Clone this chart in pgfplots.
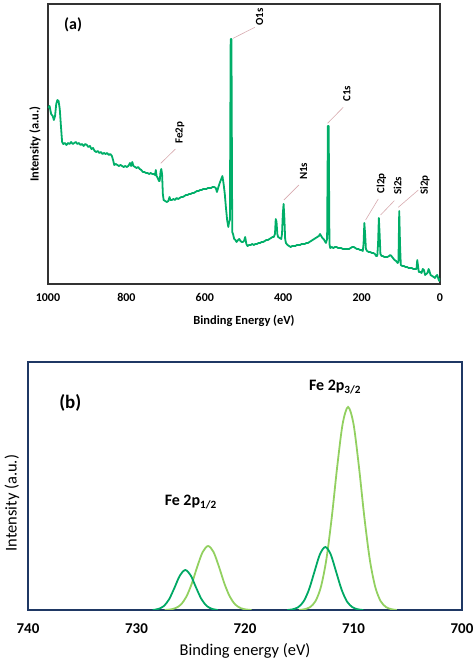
\documentclass[border=0pt]{standalone}
\usepackage{fontspec}
\setmainfont{Carlito}
\usepackage{pgfplots}
\pgfplotsset{compat=1.18}

\definecolor{survey}{RGB}{0,174,104}
\definecolor{darkfit}{RGB}{0,168,100}
\definecolor{lightfit}{RGB}{146,208,96}
\definecolor{frameb}{RGB}{31,56,100}
\definecolor{leader}{RGB}{215,170,175}

\begin{document}
\begin{tikzpicture}
\path[use as bounding box] (0,0) rectangle (474bp,664bp);

% ---------------- (a) survey spectrum ----------------
\begin{axis}[
  at={(48bp,380bp)}, anchor=south west,
  scale only axis, width=392bp, height=280bp,
  xmin=0, xmax=1000, x dir=reverse,
  ymin=0, ymax=280,
  xtick={0,200,400,600,800,1000}, ytick=\empty,
  major tick length=0pt,
  axis line style={line width=1.1pt, draw=black!80},
  /pgf/number format/assume math mode=true,
  /pgf/number format/1000 sep={},
  xticklabel style={font=\fontsize{12}{14}\selectfont\bfseries, yshift=-6bp},
  xlabel={Binding Energy (eV)},
  ylabel={Intensity (a.u.)},
  every axis x label/.style={at={(axis description cs:0.5,-0.132)}, anchor=center,
    font=\fontsize{12.5}{14}\selectfont\bfseries},
  every axis y label/.style={at={(axis description cs:-0.033,0.5)}, anchor=center, rotate=90,
    font=\fontsize{12.5}{14}\selectfont\bfseries},
]
\addplot[survey, line width=1.8pt, line join=round] coordinates {
(1000,176)(996,178)(992,170)(988,168)(985,164)(982,168)(979,180)(976,184)(973,183)(970,175)
(967,158)(964,142)(961,140)(957,141)(953,139)(949,141)(945,140)(941,142)(937,140)(933,141)
(929,142)(925,140)(921,141)(917,139)(913,140)(909,138)(905,140)(901,139)(897,137)(893,138)
(889,135)(885,136)(881,133)(877,132)(873,133)(869,131)(865,132)(861,130)(857,131)(853,130)
(849,131)(845,129)(841,130)(837,128)(834,124)(831,119)(827,120)(823,119)(819,118)(815,119)
(811,118)(807,117)(803,118)(799,117)(795,118)(791,121)(788,118)(785,122)(782,118)(778,117)
(774,116)(770,117)(766,115)(762,114)(758,112)(754,112)(750,111)(746,111)(742,110)(738,111)
(734,110)(730,110)(727,109)(725,114)(723,108)(720,106)(717,103)(715,103)(713,112)(711,115)
(709,110)(707,90)(705,84)(701,83)(697,82)(693,83)(690,87)(688,84)(684,84)(680,85)
(676,84)(672,86)(668,85)(664,86)(660,87)(656,87)(652,88)(648,89)(644,89)(640,90)
(636,90)(632,91)(628,91)(624,92)(620,93)(616,93)(612,94)(608,94)(604,95)(600,95)
(596,95)(592,96)(588,96)(584,96)(580,97)(576,97)(572,96)(569,92)(566,96)(562,101)
(558,105)(555,108)(552,100)(549,90)(546,76)(543,64)(540,57)(538,62)(536,64)(534,245)
(532,245)(530,52)(528,50)(525,45)(522,44)(519,42)(515,44)(512,45)(509,43)(506,42)
(503,42)(500,43)(497,47)(494,40)(491,38)(487,39)(483,39)(479,40)(475,39)(471,40)
(467,40)(463,41)(459,41)(455,42)(451,42)(447,43)(443,44)(439,44)(435,45)(431,46)
(427,47)(424,47)(421,50)(419,65)(417,62)(415,50)(413,47)(409,46)(405,45)(403,50)
(401,70)(399,80)(397,66)(395,45)(393,41)(389,39)(385,38)(381,37)(377,38)(373,38)
(369,38)(365,39)(361,39)(357,39)(353,40)(349,40)(345,40)(341,41)(337,41)(333,42)
(329,43)(325,44)(321,45)(317,46)(313,47)(309,48)(306,50)(303,48)(300,46)(297,45)
(294,43)(291,41)(288,45)(286,158)(284,158)(282,40)(280,36)(276,37)(272,36)(268,37)
(264,37)(260,36)(256,36)(252,36)(248,35)(244,35)(240,35)(236,35)(232,35)(228,36)
(224,37)(220,37)(216,36)(212,35)(208,35)(204,34)(200,34)(197,33)(195,40)(193,61)
(191,50)(189,35)(186,33)(182,32)(178,32)(174,31)(170,31)(166,30)(163,28)(160,28)
(158,40)(156,66)(154,50)(152,30)(149,28)(146,28)(142,27)(138,27)(134,27)(130,28)
(127,29)(124,28)(120,26)(116,24)(112,23)(108,21)(106,22)(104,73)(102,40)(100,19)
(96,18)(92,18)(88,17)(84,17)(80,16)(76,16)(72,16)(68,15)(64,15)(60,15)
(58,24)(56,18)(54,12)(50,12)(47,11)(44,15)(41,14)(38,9)(35,10)(32,11)
(29,15)(27,13)(24,9)(20,8)(16,7)(13,6)(10,8)(7,9)(4,5)(2,3)(0,6)
};
% peak assignments with leader lines
\begin{scope}[leader, line width=0.6pt]
\draw (axis cs:527.7,245.7) -- (axis cs:472.3,256.7);
\draw (axis cs:286.8,160.7) -- (axis cs:246.8,176.7);
\draw (axis cs:712.3,120.7) -- (axis cs:674.9,135);
\draw (axis cs:398.3,84) -- (axis cs:360,99);
\draw (axis cs:189.8,64) -- (axis cs:157.4,85);
\draw (axis cs:151.5,69) -- (axis cs:116.6,83.3);
\draw (axis cs:106.4,76.7) -- (axis cs:55.3,94);
\end{scope}
\begin{scope}[every node/.style={rotate=90, anchor=west, inner sep=0pt,
    font=\fontsize{11}{12}\selectfont\bfseries}]
\node at (axis cs:460,258) {O1s};
\node at (axis cs:237.4,182.3) {C1s};
\node at (axis cs:663.8,140) {Fe2p};
\node at (axis cs:348.1,104) {N1s};
\node at (axis cs:149.8,90.7) {Cl2p};
\node at (axis cs:108.1,89) {Si2s};
\node at (axis cs:38.3,89) {Si2p};
\end{scope}
\node[font=\fontsize{16}{18}\selectfont\bfseries] at (axis cs:936,259) {(a)};
\end{axis}

% ---------------- (b) Fe 2p region ----------------
\begin{axis}[
  at={(28bp,54bp)}, anchor=south west,
  scale only axis, width=434bp, height=248bp,
  xmin=700, xmax=740, x dir=reverse,
  ymin=0, ymax=248,
  xtick={700,710,720,730,740}, ytick=\empty,
  major tick length=0pt,
  axis line style={line width=1.6pt, draw=frameb},
  /pgf/number format/assume math mode=true,
  /pgf/number format/1000 sep={},
  xticklabel style={font=\fontsize{15}{17}\selectfont\bfseries, yshift=-10bp},
  xlabel={Binding energy (eV)},
  ylabel={Intensity (a.u.)},
  every axis x label/.style={at={(axis description cs:0.5,-0.165)}, anchor=center,
    font=\fontsize{16.5}{18}\selectfont},
  every axis y label/.style={at={(axis description cs:-0.037,0.431)}, anchor=center, rotate=90,
    font=\fontsize{16.5}{18}\selectfont},
]
% Fe 2p3/2 main component
\addplot[lightfit, line width=1.8pt, smooth] coordinates {
(715,0)(714.5,0.8)(714,2.9)(713.5,8.9)(713,23.2)(712.5,50.6)(712,92.9)(711.5,143.4)(711,186.1)
(710.5,203)(710,186.1)(709.5,143.4)(709,92.9)(708.5,50.6)(708,23.2)(707.5,8.9)(707,2.9)(706.5,0.8)(706,0)
};
% Fe 2p1/2 main component
\addplot[lightfit, line width=1.8pt, smooth] coordinates {
(727.4,0)(726.9,0.5)(726.4,1.9)(725.9,5.5)(725.4,13.4)(724.9,26.5)(724.4,43.3)(723.9,58.0)
(723.4,64)(722.9,58.0)(722.4,43.3)(721.9,26.5)(721.4,13.4)(720.9,5.5)(720.4,1.9)(719.9,0.5)(719.4,0)
};
% Fe 2p3/2 second component
\addplot[darkfit, line width=1.8pt, smooth] coordinates {
(716.1,0)(715.6,0.7)(715.1,2.8)(714.6,8.5)(714.1,20.5)(713.6,38.2)(713.1,55.6)
(712.6,63)(712.1,55.6)(711.6,38.2)(711.1,20.5)(710.6,8.5)(710.1,2.8)(709.6,0.7)(709.1,0)
};
% Fe 2p1/2 second component
\addplot[darkfit, line width=1.8pt, smooth] coordinates {
(728.5,0)(728,1.0)(727.5,3.8)(727,10.6)(726.5,22.2)(726,34.5)
(725.5,40)(725,34.5)(724.5,22.2)(724,10.6)(723.5,3.8)(723,1.0)(722.5,0)
};
\node[font=\fontsize{19}{21}\selectfont\bfseries] at (axis cs:736.1,207) {(b)};
\node[anchor=base, font=\fontsize{16}{18}\selectfont\bfseries] at (axis cs:711.7,219) {Fe 2p\textsubscript{3/2}};
\node[anchor=base, font=\fontsize{16}{18}\selectfont\bfseries] at (axis cs:725.0,104) {Fe 2p\textsubscript{1/2}};
\end{axis}
\end{tikzpicture}
\end{document}
